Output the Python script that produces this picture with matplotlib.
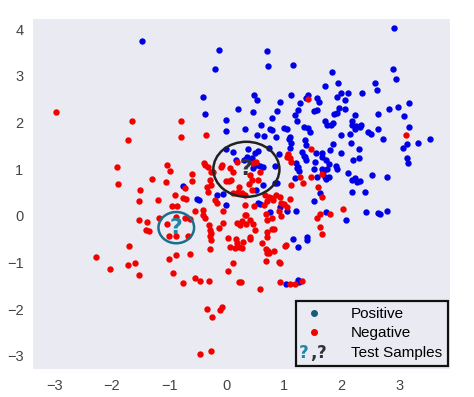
import numpy as np
import matplotlib
matplotlib.use("Agg")
import matplotlib.pyplot as plt
from matplotlib.patches import Ellipse
from matplotlib.lines import Line2D
from matplotlib.legend_handler import HandlerBase
from matplotlib.text import Text

plt.rcParams["font.family"] = ["Liberation Sans", "DejaVu Sans"]

# Positive (blue) samples
positive = np.array([
    (2.90, 4.03), (-1.48, 3.74), (-0.13, 3.55), (0.69, 3.53), (-0.20, 3.14), (0.71, 3.21), (1.15, 3.24),
    (1.83, 3.08), (2.89, 3.16), (2.95, 2.93), (1.94, 2.85), (1.70, 2.78), (2.58, 2.86), (2.62, 2.71),
    (1.98, 2.64), (2.11, 2.64), (1.92, 2.55), (2.05, 2.49), (2.36, 2.64), (1.57, 2.52), (1.61, 2.44),
    (-0.42, 2.56), (0.48, 2.60), (0.52, 2.49), (0.93, 2.44), (1.12, 2.59), (1.27, 2.43), (1.37, 2.52),
    (1.42, 2.59), (-0.38, 2.18), (0.19, 2.29), (0.46, 2.22), (0.88, 2.24), (1.24, 2.27), (1.51, 2.25),
    (1.57, 2.28), (1.96, 2.31), (2.06, 2.29), (3.17, 2.43), (2.97, 2.33), (2.83, 2.29), (2.63, 2.18),
    (3.09, 2.14), (3.17, 1.91), (2.23, 2.16), (1.86, 2.19), (1.91, 2.21), (-0.01, 2.06), (0.78, 2.10),
    (1.18, 2.16), (1.22, 2.04), (1.70, 2.04), (2.17, 2.04), (-0.01, 1.83), (0.31, 1.87), (0.59, 1.94),
    (0.75, 1.86), (0.79, 1.85), (0.99, 1.89), (1.04, 1.86), (1.35, 1.91), (1.41, 1.88), (1.44, 1.81),
    (1.75, 1.94), (1.81, 1.94), (1.85, 1.99), (2.18, 1.94), (2.25, 1.92), (2.31, 1.90), (2.34, 1.94),
    (2.23, 1.86), (2.63, 1.87), (2.45, 1.79), (2.50, 1.76), (1.99, 1.74), (2.14, 1.76), (3.53, 1.66),
    (0.53, 1.73), (0.65, 1.71), (0.86, 1.69), (1.10, 1.70), (2.72, 1.64), (3.32, 1.56), (3.14, 1.54),
    (3.07, 1.46), (3.14, 1.25), (3.16, 1.14), (1.84, 1.54), (2.16, 1.56), (2.30, 1.44), (1.79, 1.41),
    (1.66, 1.36), (1.65, 1.27), (1.99, 1.35), (1.72, 1.20), (2.30, 1.25), (2.19, 1.20), (1.78, 1.11),
    (1.52, 1.01), (1.66, 1.01), (1.75, 1.00), (1.68, 0.94), (1.90, 1.07), (1.91, 1.01), (1.57, 0.84),
    (1.70, 0.84), (1.73, 0.79), (1.78, 0.84), (2.11, 0.93), (2.53, 0.88), (2.79, 0.83), (2.17, 0.77),
    (2.23, 0.81), (2.31, 0.76), (2.26, 0.72), (2.17, 0.51), (2.41, 0.52), (1.62, 0.49), (1.52, 0.33),
    (1.72, 0.09), (2.43, 0.08), (2.63, 0.06), (2.67, 0.04), (2.79, 0.11), (2.08, -0.09), (1.08, 1.66),
    (1.11, 1.56), (1.10, 1.46), (1.36, 1.63), (1.37, 1.52), (-0.01, 1.44), (0.11, 1.38), (0.36, 1.44),
    (0.49, 1.36), (0.54, 1.40), (0.74, 1.45), (0.91, 1.33), (0.43, 1.24), (0.52, 1.09), (0.57, 1.07),
    (0.63, 1.06), (0.83, 1.08), (0.16, 1.21), (1.20, 1.13), (1.22, 1.02), (1.26, 0.96), (1.36, 1.27),
    (1.53, 1.16), (1.19, 0.81), (0.63, 0.66), (0.88, 0.70), (-0.07, 0.47), (-0.18, 0.45), (-0.02, 0.24),
    (-0.52, 0.36), (-0.48, 0.34), (0.54, 0.27), (0.75, 0.08), (0.93, 0.20), (1.04, 0.11), (1.21, 0.11),
    (-0.77, 0.64), (1.15, -0.50), (1.39, -0.46), (1.40, -0.51), (1.24, -0.66), (1.03, -1.46),
    (1.23, -1.37), (1.25, -1.41), (0.50, 0.55), (0.58, 0.26), (0.84, 0.71), (0.35, 1.26), (0.46, 1.02),
    (1.30, 1.38), (1.34, 1.29), (1.37, 1.20), (1.24, 1.06), (1.56, 1.34), (0.30, 1.19),
])

# Negative (red) samples
negative = np.array([
    (-2.97, 2.22), (-1.65, 2.04), (-1.72, 1.62), (-0.80, 2.03), (-0.80, 1.70), (-0.37, 1.74),
    (-1.92, 1.06), (-1.90, 0.69), (-1.04, 1.10), (-0.99, 0.97), (-1.31, 0.79), (-1.06, 0.72),
    (-0.60, 0.91), (-0.61, 0.74), (-1.51, 0.56), (-1.53, 0.33), (-1.19, 0.34), (-0.90, 0.44),
    (-0.76, 0.38), (-0.71, 0.36), (-0.96, 0.22), (-0.86, 0.21), (-1.53, -0.09), (-1.39, -0.12),
    (-1.40, -0.30), (-1.36, -0.33), (-1.18, -0.04), (-0.89, -0.03), (-0.73, -0.04), (-1.05, -0.17),
    (-1.01, -0.42), (-0.89, -0.44), (-0.67, -0.42), (-1.70, -0.64), (-0.73, 0.59), (-0.56, 0.11),
    (-2.28, -0.87), (-2.03, -1.14), (-1.72, -1.06), (-1.59, -1.01), (-1.53, -1.27),
    (-1.00, -0.93), (-0.88, -0.84), (-0.64, -0.81), (-0.94, -1.23), (-0.76, -1.44),
    (-0.55, -1.33), (-0.47, -1.39), (-0.31, -1.39), (-0.35, -2.00), (-0.12, -2.01), (-0.09, -1.96),
    (-0.25, -2.16), (-0.47, -2.95), (-0.28, -2.89), (-0.64, -0.06),
    (-0.30, -0.44), (-0.28, -0.51), (-0.30, -0.71), (0.02, -0.48), (0.16, -0.49), (0.18, -0.59),
    (0.21, -0.66), (0.26, -0.69), (0.14, -0.69), (0.28, -0.55), (0.40, -0.49), (0.40, -0.45),
    (0.06, -0.67), (0.61, -0.58), (0.68, -0.71), (0.72, -0.76), (0.82, -0.75), (0.70, -0.80),
    (0.68, -0.96), (0.90, -0.99), (1.03, -0.62), (0.11, -1.01), (0.02, -1.18), (0.21, -1.41),
    (0.25, -1.41), (0.57, -1.57), (0.92, -1.41), (1.10, -1.46), (1.18, -1.46), (1.30, -1.39),
    (-0.38, 1.09), (-0.32, 1.06), (-0.11, 1.04), (-0.08, 1.09), (-0.24, 0.95), (0.06, 1.02), (0.10, 0.95),
    (-0.01, 0.74), (0.04, 0.75), (0.08, 0.77), (-0.30, 0.77), (-0.27, 0.66), (-0.35, 0.63), (-0.32, 0.52),
    (0.17, 1.16), (0.46, 1.13), (0.50, 1.16), (0.40, 0.88), (0.43, 0.77), (0.39, 0.68), (0.54, 0.77),
    (0.57, 0.95), (0.20, 0.52), (0.27, 0.49), (0.31, 0.45), (0.43, 0.56),
    (0.66, 0.45), (0.73, 0.41), (0.78, 0.39), (0.69, 0.31), (0.81, 0.34),
    (0.95, 0.27), (0.99, 0.25), (1.04, 0.20), (1.10, 0.36), (1.12, 0.66), (1.10, 1.24), (1.07, 1.32),
    (1.12, 1.15), (1.28, 0.84), (1.33, 0.70), (1.46, 1.44), (1.46, 0.84), (0.31, 0.24), (0.47, 0.22),
    (0.31, 0.01), (0.40, -0.09), (-0.06, 0.11), (-0.18, 0.27), (-0.21, 0.34), (-0.41, 0.13),
    (-0.41, 0.02), (-0.38, -0.05), (-0.31, -0.19), (-0.30, -0.30), (-0.27, -0.37), (-0.06, -0.16),
    (-0.13, -0.26), (0.17, -0.16), (0.23, -0.19), (0.46, -0.17), (0.49, -0.30), (0.69, -0.34),
    (0.82, -0.28), (0.70, -0.09), (0.78, -0.05), (0.95, -0.01), (0.86, 0.45), (0.93, 0.41),
    (0.34, 0.02), (0.26, -0.10), (0.33, -0.17), (0.65, 0.24), (0.68, 0.04), (0.91, 0.11),
    (1.01, -0.64), (0.92, -1.00), (0.79, -0.29), (0.69, -0.46), (0.74, -0.79),
    (1.41, 2.50), (3.11, 1.74), (1.65, 0.91), (1.59, 0.63), (1.66, 0.41), (2.02, 0.14), (1.80, 0.04),
    (1.62, 0.04), (1.57, -0.05), (1.62, -0.24), (1.66, -0.38), (1.04, 1.27), (-0.27, 0.94),
    (-0.40, 1.13), (0.11, 0.49), (0.21, 0.63),
])

# test samples: (x, y, circle width, circle height)
test_dark = (0.34, 1.00, 1.15, 1.18)
test_teal = (-0.88, -0.25, 0.62, 0.67)

ticks_x = [-3, -2, -1, 0, 1, 2, 3]
ticks_y = [-3, -2, -1, 0, 1, 2, 3, 4]
legend_labels = ["Positive", "Negative", "Test Samples"]

teal = "#1f86a6"
dark = "#333333"


class QuestionHandler(HandlerBase):
    # draws the two coloured question marks as the legend handle
    def create_artists(self, legend, orig_handle, xdescent, ydescent,
                       width, height, fontsize, trans):
        y = height / 2 - ydescent - 1
        kw = dict(fontsize=fontsize * 1.1, fontweight="bold", va="center",
                  ha="left", transform=trans, family="DejaVu Sans")
        t1 = Text(-xdescent - 2, y, "?", color=teal, **kw)
        t2 = Text(-xdescent + 0.36 * width, y, ",", color=dark, **kw)
        t3 = Text(-xdescent + 0.62 * width, y, "?", color=dark, **kw)
        return [t1, t2, t3]


fig = plt.figure(figsize=(4.74, 3.97), dpi=100)
ax = fig.add_axes([0.070, 0.0705, 0.879, 0.8815])
ax.set_facecolor("#EAEAF2")
for s in ax.spines.values():
    s.set_visible(False)

ax.scatter(positive[:, 0], positive[:, 1], s=21, color="#0000e6", linewidths=0, zorder=2)
ax.scatter(negative[:, 0], negative[:, 1], s=21, color="#f20000", linewidths=0, zorder=2)

# circles and question marks for the test samples
for (cx, cy, w, h), col in [(test_dark, "#222222"), (test_teal, "#1b6f8c")]:
    ax.add_patch(Ellipse((cx, cy), w, h, fill=False, edgecolor=col, lw=1.8, zorder=3))
ax.text(test_dark[0], test_dark[1], "?", color=dark, fontsize=16, fontweight="bold",
        ha="center", va="center", family="DejaVu Sans", zorder=4)
ax.text(test_teal[0], test_teal[1], "?", color=teal, fontsize=16, fontweight="bold",
        ha="center", va="center", family="DejaVu Sans", zorder=4)

ax.set_xlim(-3.37, 3.88)
ax.set_ylim(-3.28, 4.22)
ax.set_xticks(ticks_x)
ax.set_yticks(ticks_y)
ax.tick_params(length=0, labelsize=10.5, labelcolor="#444444", pad=7)

pos_h = Line2D([], [], ls="none", marker="o", markersize=4, color="#1c5a7a")
neg_h = Line2D([], [], ls="none", marker="o", markersize=4, color="#f20000")
q_h = Line2D([], [])
leg = ax.legend([pos_h, neg_h, q_h], legend_labels, loc="lower right",
                bbox_to_anchor=(0.995, 0.009), fontsize=11, frameon=True,
                fancybox=False, handlelength=1.6, handletextpad=1.6,
                labelspacing=0.35, borderpad=0.4, borderaxespad=0,
                handler_map={q_h: QuestionHandler()})
leg.get_frame().set_edgecolor("#111111")
leg.get_frame().set_linewidth(1.6)
leg.get_frame().set_facecolor("#EAEAF2")
leg.get_frame().set_alpha(1)

fig.savefig("out.png", dpi=100, facecolor="white")
